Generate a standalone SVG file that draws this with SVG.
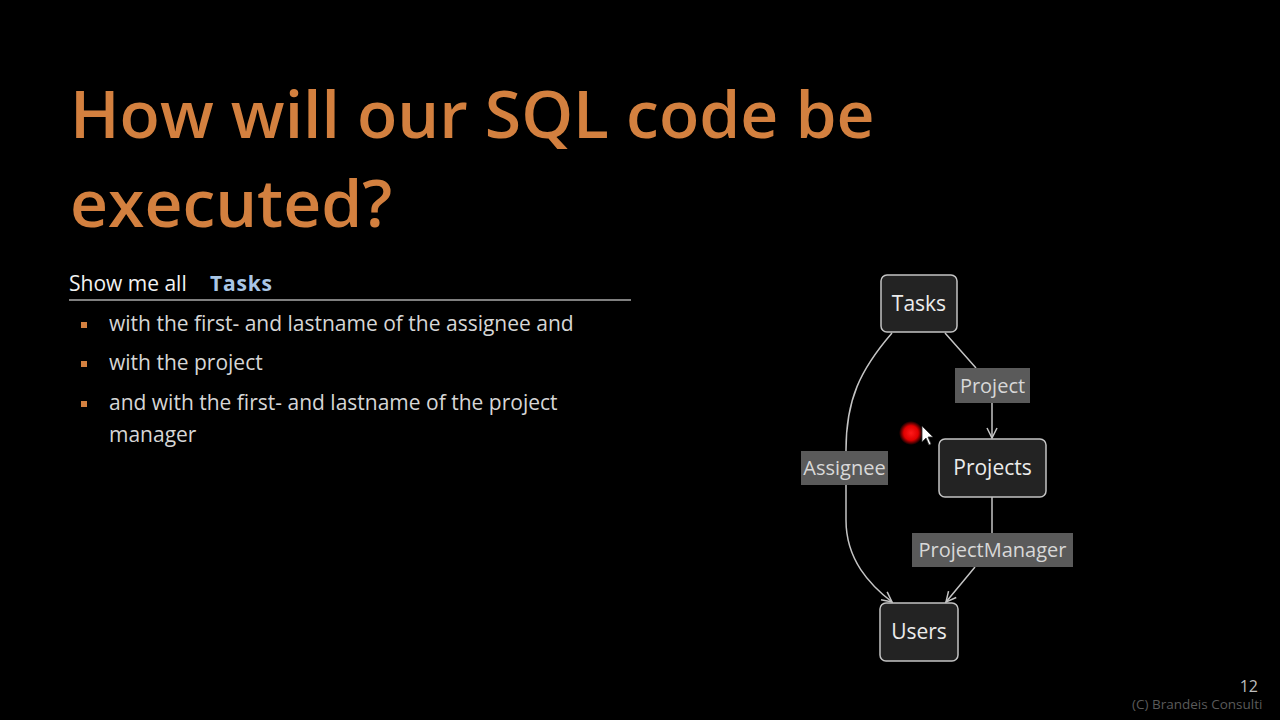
<svg xmlns="http://www.w3.org/2000/svg" width="1280" height="720" viewBox="0 0 1280 720">
  <defs>
    <style>
      .title { font-family: "Open Sans", "Liberation Sans", sans-serif; font-size: 66px; fill: #d3803f; font-weight: 600; }
      .body { font-family: "Open Sans", "Liberation Sans", sans-serif; font-size: 21px; fill: #d6d6d6; }
      .node rect { fill: #232323; stroke: #c4c4c4; stroke-width: 1.5; }
      .node text { font-family: "Open Sans", "DejaVu Sans", sans-serif; font-size: 21px; fill: #ececec; text-anchor: middle; }
      .edge { fill: none; stroke: #c4c4c4; stroke-width: 1.5; }
      .lbl rect { fill: #5a5a5a; }
      .lbl text { font-family: "Open Sans", "DejaVu Sans", sans-serif; font-size: 20px; fill: #d8d8d8; text-anchor: middle; }
      .bullet { fill: #d3803f; }
    </style>
    <marker id="arr" viewBox="0 0 12 12" refX="11" refY="6" markerWidth="12" markerHeight="12" markerUnits="userSpaceOnUse" orient="auto">
      <path d="M1,1 L11,6 L1,11" fill="none" stroke="#c4c4c4" stroke-width="1.5"/>
    </marker>
    <radialGradient id="laser">
      <stop offset="0" stop-color="#ff1a1a"/>
      <stop offset="0.6" stop-color="#e00000"/>
      <stop offset="1" stop-color="#e00000" stop-opacity="0"/>
    </radialGradient>
  </defs>
  <rect width="1280" height="720" fill="#000"/>

  <g id="title">
    <text class="title" x="70" y="138">How will our SQL code be</text>
    <text class="title" x="70" y="227">executed?</text>
  </g>

  <g id="text">
    <text class="body" x="69" y="291" style="fill:#f2f2f2">Show me all</text>
    <text class="body" x="210" y="291" style="fill:#a9c6e6;font-weight:bold;letter-spacing:0.8px">Tasks</text>
    <line x1="69" y1="300" x2="631" y2="300" stroke="#aaaaaa" stroke-width="1.5"/>
    <rect class="bullet" x="81" y="322" width="6" height="6"/>
    <text class="body" x="109" y="331">with the first- and lastname of the assignee and</text>
    <rect class="bullet" x="81" y="361" width="6" height="6"/>
    <text class="body" x="109" y="370">with the project</text>
    <rect class="bullet" x="81" y="401" width="6" height="6"/>
    <text class="body" x="109" y="410">and with the first- and lastname of the project</text>
    <text class="body" x="109" y="442">manager</text>
  </g>

  <g id="connectors">
    <path class="edge" d="M892,333 C860,370 846,400 846,450 L846,520 C846,560 870,585 892,602" marker-end="url(#arr)"/>
    <path class="edge" d="M945,333 L976,368 M992,403 L992,438" marker-end="url(#arr)"/>
    <path class="edge" d="M992,497 L992,533 M975,567 L946,602" marker-end="url(#arr)"/>
  </g>

  <g id="edge-labels">
    <g class="lbl"><rect x="801" y="451" width="87" height="34"/><text x="844.5" y="475">Assignee</text></g>
    <g class="lbl"><rect x="955" y="368" width="75" height="35"/><text x="992.5" y="393">Project</text></g>
    <g class="lbl"><rect x="912" y="533" width="161" height="34"/><text x="992.5" y="557">ProjectManager</text></g>
  </g>

  <g id="node-tasks" class="node">
    <rect x="881" y="275" width="76" height="57" rx="6"/>
    <text x="919" y="311">Tasks</text>
  </g>
  <g id="node-projects" class="node">
    <rect x="939" y="439" width="107" height="58" rx="6"/>
    <text x="992.5" y="475">Projects</text>
  </g>
  <g id="node-users" class="node">
    <rect x="880" y="603" width="78" height="58" rx="6"/>
    <text x="919" y="639">Users</text>
  </g>

  <g id="pointer">
    <circle cx="911" cy="433" r="12" fill="url(#laser)"/>
    <path d="M922,426 L922,442 L926,438 L929,445 L931,444 L928,437 L933,437 Z" fill="#ffffff" stroke="#333" stroke-width="0.8"/>
  </g>

  <g id="footer">
    <text x="1258" y="692" text-anchor="end" style="font-family:'Open Sans','Liberation Sans',sans-serif;font-size:16px;fill:#bdbdbd">12</text>
    <text x="1132" y="709" style="font-family:'Open Sans','Liberation Sans',sans-serif;font-size:13.5px;fill:#5a5a5a">(C) Brandeis Consulti</text>
  </g>
</svg>
